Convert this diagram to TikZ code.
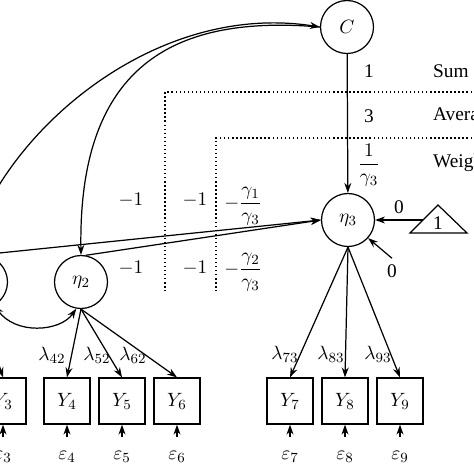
\documentclass[tikz,border=0pt]{standalone}
\usepackage{amsmath}
\usepackage{fontspec}
\setmainfont{Liberation Serif}
\usetikzlibrary{arrows.meta}
\tikzset{
  latent/.style={circle, draw, line width=0.7pt, minimum size=1.06cm, inner sep=0pt},
  manifest/.style={rectangle, draw, line width=0.7pt, minimum size=0.92cm, inner sep=0pt},
  arr/.style={->, line width=0.7pt},
  guide/.style={line width=0.8pt, dash pattern=on 0.8pt off 1.5pt},
  coef/.style={inner sep=1pt},
}

\begin{document}
\begin{tikzpicture}[x=0.02cm, y=-0.02cm, >={Stealth[length=2mm, width=1.4mm]},
    font=\fontsize{11}{13}\selectfont]
    \useasboundingbox (0,0) rectangle (474,474);
    \clip (0,0) rectangle (474,474);

    % scoring rules
    \draw[guide] (480,92) -- (165,92) -- (165,291);
    \draw[guide] (480,138) -- (216,138) -- (216,291);

    \node[latent] (eta1) at (-19,282) {};
    \node[latent] (eta2) at (81,282) {$\eta_2$};
    \node[latent] (eta3) at (348,220) {$\eta_3$};
    \node[latent] (C) at (347,27) {$C$};

    \foreach \i/\x in {3/3, 4/67, 5/122, 6/177, 7/290, 8/345, 9/400} {
      \node[manifest] (Y\i) at (\x,401) {$Y_\i$};
      \node[inner sep=1pt] (e\i) at (\x,457) {$\varepsilon_\i$};
      \draw[arr, shorten <=7pt] (e\i) -- (Y\i);
    }

    \draw[arr] (eta1.south) -- (Y3.north);
    \foreach \i in {4,5,6} \draw[arr] (eta2.south) -- (Y\i.north);
    \foreach \i in {7,8,9} \draw[arr] (eta3.south) -- (Y\i.north);

    \node[coef] (l42) at (52,355) {$\lambda_{42}$};
    \node[coef] (l52) at (97,355) {$\lambda_{52}$};
    \node[coef] (l62) at (133,355) {$\lambda_{62}$};
    \node[coef] (l73) at (285,354) {$\lambda_{73}$};
    \node[coef] (l83) at (331,354) {$\lambda_{83}$};
    \node[coef] (l93) at (378,354) {$\lambda_{93}$};

    % structural part
    \coordinate (Ctop) at (347,-40);
    \draw[arr] (Ctop) -- (C.north);
    \draw[arr] (C) -- (eta3);
    \draw[arr] (eta1.north) -- (eta3.west);
    \draw[arr] (eta2.80) -- (eta3.west);
    \draw[arr] (eta1.120) .. controls (-5,140) and (150,0) .. (C.west);
    \draw[arr] (C.west) .. controls (180,15) and (78,60) .. (eta2.north);
    \draw[arr, <->] (eta1.-60) .. controls (15,335) and (60,332) .. (eta2.-100);

    \node[coef] (sumC) at (369,71) {1};
    \node[coef, anchor=west] (sumL) at (431,71) {Sum};
    \node[coef] (avgC) at (369,116) {3};
    \node[coef, anchor=west] (avgL) at (431,116) {Average};
    \node[coef] (wC) at (369,165) {$\dfrac{1}{\gamma_3}$};
    \node[coef, anchor=west] (wL) at (431,163) {Weighted};

    \node[coef] (s1) at (131,200) {$-1$};
    \node[coef] (a1) at (195,200) {$-1$};
    \node[coef] (w1) at (243,206) {$-\dfrac{\gamma_1}{\gamma_3}$};
    \node[coef] (s2) at (131,268) {$-1$};
    \node[coef] (a2) at (195,268) {$-1$};
    \node[coef] (w2) at (243,272) {$-\dfrac{\gamma_2}{\gamma_3}$};

    % intercept
    \draw[line width=0.7pt] (410,233) -- (438,205) -- (467,233) -- cycle;
    \node[coef] (one) at (438,223) {1};
    \coordinate (tri) at (423,220);
    \draw[arr] (tri) -- (eta3.east) node[midway, above] (zeroA) {0};
    \node (zeroB) at (392,271) {0};
    \draw[arr] (zeroB.north) -- (eta3.-42);
\end{tikzpicture}
\end{document}
